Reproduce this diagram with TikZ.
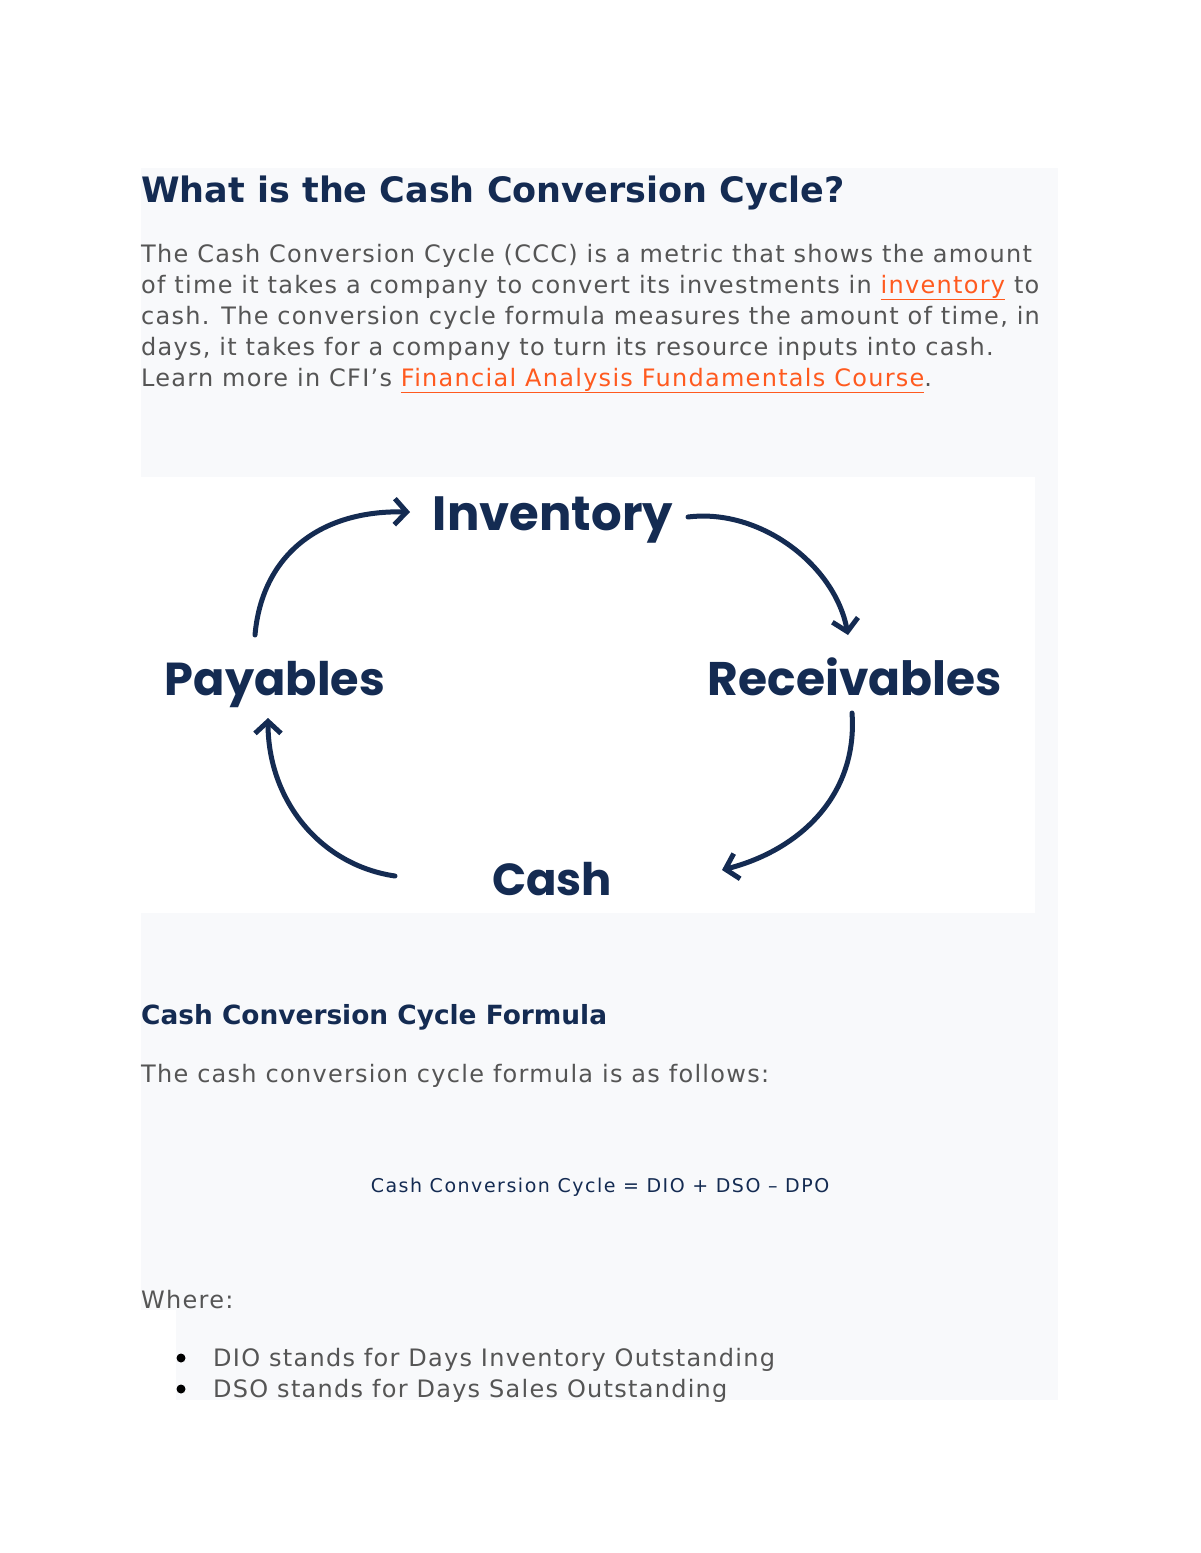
\documentclass[tikz,border=0pt]{standalone}
\usepackage{fontspec}
\setmainfont{DejaVu Sans}
\newfontfamily\popfont{Poppins}
\newfontfamily\spaced[LetterSpace=5.3]{DejaVu Sans}
\newfontfamily\spacedf[LetterSpace=8]{DejaVu Sans}
\usetikzlibrary{arrows.meta}
\definecolor{navy}{HTML}{142B52}
\definecolor{bodygray}{HTML}{555555}
\definecolor{linkorange}{HTML}{FF5A1F}
\definecolor{panel}{HTML}{F8F9FB}
\newcommand{\lnk}[1]{{\color{linkorange}\underline{#1}}}
\tikzset{
  bodyline/.style={anchor=base west, inner sep=0pt, text=bodygray, font=\spaced\fontsize{24}{28}\selectfont},
  bigl/.style={anchor=base, inner sep=0pt, text=navy, font=\popfont\bfseries\fontsize{46}{50}\selectfont},
  cyc/.style={draw=navy, line width=5pt, line cap=round, -{Straight Barb[length=12pt,width=26pt,line width=5pt]}}
}
\begin{document}
\begin{tikzpicture}[x=1pt,y=-1pt]
\useasboundingbox[fill=white] (0,0) rectangle (1200,1553);
\fill[panel] (141,168) rectangle (1058,1310);
\fill[panel] (176,1310) rectangle (1058,1400);
\fill[white] (141,477) rectangle (1035,913);

\node[anchor=base west, inner sep=0pt, text=navy, font=\bfseries\fontsize{35}{40}\selectfont] (title) at (141,202) {What is the Cash Conversion Cycle?};
\node[bodyline] (l1) at (141,262) {The Cash Conversion Cycle (CCC) is a metric that shows the amount};
\node[bodyline] (l2) at (141,293) {of time it takes a company to convert its investments in \lnk{inventory} to};
\node[bodyline] (l3) at (141,324) {cash. The conversion cycle formula measures the amount of time, in};
\node[bodyline] (l4) at (141,355) {days, it takes for a company to turn its resource inputs into cash.};
\node[bodyline] (l5) at (141,386) {Learn more in CFI’s \lnk{Financial Analysis Fundamentals Course}.};

\node[bigl] (inv) at (553,530) {\resizebox{240pt}{!}{Inventory}};
\node[bigl] (pay) at (275,695) {\resizebox{220pt}{!}{Payables}};
\node[bigl] (rec) at (855,695) {\resizebox{294pt}{!}{Receivables}};
\node[bigl] (cash) at (552,895) {\resizebox{120pt}{!}{Cash}};

\coordinate (a1s) at (255,635); \coordinate (a1e) at (410,512);
\coordinate (a2s) at (688,517); \coordinate (a2e) at (848,635);
\coordinate (a3s) at (852,713); \coordinate (a3e) at (722,870);
\coordinate (a4s) at (395,876); \coordinate (a4e) at (268,718);
\draw[cyc] (a1s) .. controls (262,555) and (320,510) .. (a1e);
\draw[cyc] (a2s) .. controls (760,508) and (835,565) .. (a2e);
\draw[cyc] (a3s) .. controls (858,795) and (800,850) .. (a3e);
\draw[cyc] (a4s) .. controls (320,865) and (268,800) .. (a4e);

\node[anchor=base west, inner sep=0pt, text=navy, font=\bfseries\fontsize{26.4}{30}\selectfont] (sub) at (141,1024) {Cash Conversion Cycle Formula};
\node[bodyline] (intro) at (141,1082) {The cash conversion cycle formula is as follows:};
\node[anchor=base, inner sep=0pt, text=navy, font=\spacedf\fontsize{19}{22}\selectfont] (formula) at (600,1192) {Cash Conversion Cycle = DIO + DSO – DPO};
\node[bodyline] (where) at (141,1308) {Where:};
\node[bodyline] (b1) at (213,1366) {DIO stands for Days Inventory Outstanding};
\node[bodyline] (b2) at (213,1397) {DSO stands for Days Sales Outstanding};
\fill[black] (181,1358) circle (4.5pt);
\fill[black] (181,1389) circle (4.5pt);
\end{tikzpicture}
\end{document}
